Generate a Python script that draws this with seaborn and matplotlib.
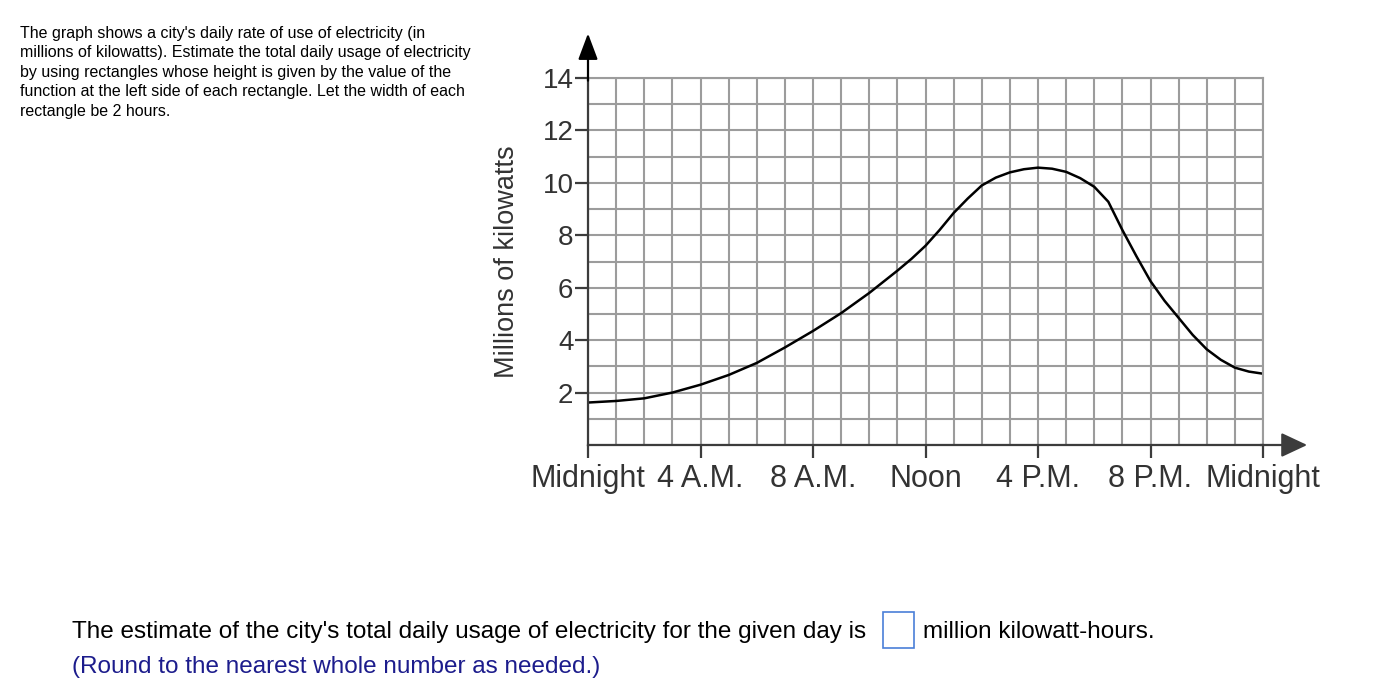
import matplotlib
matplotlib.use('Agg')
import matplotlib.pyplot as plt
import seaborn as sns
import pandas as pd
from matplotlib.patches import Rectangle

# values (hour of day, millions of kilowatts)
hours = [0, 1, 2, 3, 4, 5, 6, 7, 8, 9, 10, 11, 11.5, 12, 12.5, 13, 13.5, 14, 14.5,
         15, 15.5, 16, 16.5, 17, 17.5, 18, 18.5, 19, 19.5, 20, 20.5, 21, 21.5,
         22, 22.5, 23, 23.5, 24]
usage = [1.62, 1.68, 1.78, 2.0, 2.3, 2.67, 3.13, 3.72, 4.35, 5.03, 5.8, 6.65, 7.1,
         7.6, 8.2, 8.85, 9.4, 9.9, 10.2, 10.4, 10.52, 10.58, 10.54, 10.42, 10.18,
         9.85, 9.28, 8.2, 7.2, 6.25, 5.5, 4.85, 4.2, 3.65, 3.25, 2.95, 2.8, 2.72]

x_ticks = [0, 4, 8, 12, 16, 20, 24]
x_labels = ['Midnight', '4 A.M.', '8 A.M.', 'Noon', '4 P.M.', '8 P.M.', 'Midnight']
y_ticks = [2, 4, 6, 8, 10, 12, 14]

question_lines = [
    "The graph shows a city's daily rate of use of electricity (in",
    "millions of kilowatts). Estimate the total daily usage of electricity",
    "by using rectangles whose height is given by the value of the",
    "function at the left side of each rectangle. Let the width of each",
    "rectangle be 2 hours.",
]

sns.set_style('white')
plt.rcParams['font.family'] = ['Liberation Sans', 'DejaVu Sans']

W, H = 1388, 692
fig = plt.figure(figsize=(W / 100, H / 100), dpi=100)
ax = fig.add_axes([588 / W, 1 - 445 / H, 675 / W, 367 / H])

df = pd.DataFrame({'hour': hours, 'usage': usage})
sns.lineplot(data=df, x='hour', y='usage', ax=ax, color='black', linewidth=1.8)

ax.set_xlim(0, 24)
ax.set_ylim(0, 14)

# grid every hour / every unit
ax.set_xticks(range(25), minor=True)
ax.set_yticks(range(15), minor=True)
ax.set_xticks(x_ticks)
ax.set_xticklabels(x_labels)
ax.set_yticks(y_ticks)
ax.grid(which='both', color='#9c9c9c', linewidth=1.5)
ax.set_axisbelow(True)

axis_col = '#3c3c3c'
for s in ['left', 'bottom']:
    ax.spines[s].set_color(axis_col)
    ax.spines[s].set_linewidth(1.6)
for s in ['top', 'right']:
    ax.spines[s].set_color('#9c9c9c')
    ax.spines[s].set_linewidth(1.5)

ax.tick_params(axis='x', which='major', direction='out', length=9.5, width=1.6,
               color=axis_col, labelsize=22, labelcolor='#333333', pad=4.5, bottom=True)
ax.tick_params(axis='y', which='major', direction='out', length=9.5, width=1.6,
               color=axis_col, labelsize=20, labelcolor='#333333', pad=1, left=True)
ax.tick_params(which='minor', length=0)

ax.set_xlabel('')
ax.set_ylabel('Millions of kilowatts', fontsize=19.5, color='#333333')
ax.yaxis.set_label_coords(-0.1, 0.5)

# axis arrows
ax.annotate('', xy=(0, 15.7), xytext=(0, 13.9), annotation_clip=False,
            arrowprops=dict(arrowstyle='-|>,head_length=1.6,head_width=0.6',
                            color='black', lw=1.6, shrinkA=0, shrinkB=0))
ax.annotate('', xy=(25.57, 0), xytext=(23.9, 0), annotation_clip=False,
            arrowprops=dict(arrowstyle='-|>,head_length=1.6,head_width=0.75',
                            color=axis_col, lw=1.6, shrinkA=0, shrinkB=0))

# question text
for i, line in enumerate(question_lines):
    fig.text(20 / W, 1 - (38 + 19.4 * i) / H, line, fontsize=11.5,
             color='black', va='baseline', ha='left')

fig.text(72 / W, 1 - 638 / H,
         "The estimate of the city's total daily usage of electricity for the given day is",
         fontsize=17.5, color='black', va='baseline', ha='left')
fig.patches.append(Rectangle((882.5 / W, 1 - 648 / H), 31 / W, 36 / H,
                             transform=fig.transFigure, fill=False,
                             edgecolor='#4a7fd8', linewidth=1.2))
fig.text(923 / W, 1 - 638 / H, "million kilowatt-hours.", fontsize=17.5,
         color='black', va='baseline', ha='left')
fig.text(72 / W, 1 - 673 / H, "(Round to the nearest whole number as needed.)",
         fontsize=17.5, color='#1c1c8c', va='baseline', ha='left')

fig.savefig('out.png', dpi=100)
